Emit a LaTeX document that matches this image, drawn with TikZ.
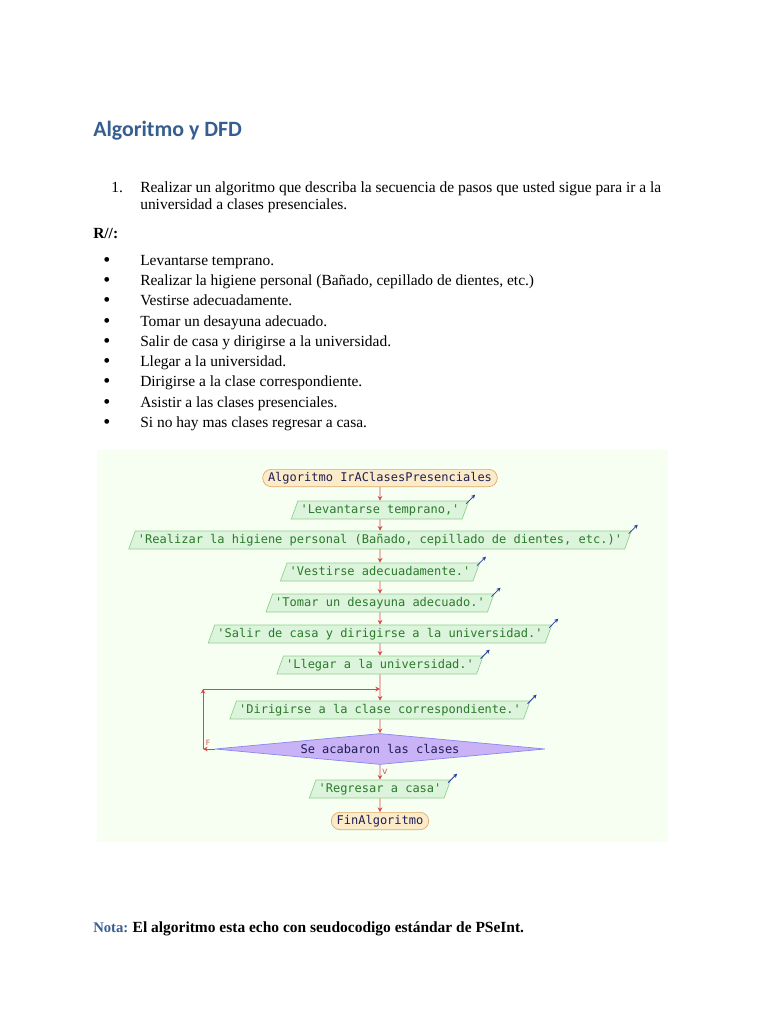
\documentclass[tikz,border=0pt]{standalone}
\usepackage{fontspec}
\setmainfont{Liberation Serif}
\newfontfamily\headfont{Carlito}
\newfontfamily\pmono{DejaVu Sans Mono}
\newfontfamily\lblfont{DejaVu Sans}
\usetikzlibrary{shapes.geometric,arrows.meta}
\definecolor{headblue}{HTML}{365F91}
\definecolor{panel}{HTML}{F6FFF2}
\definecolor{iofill}{HTML}{DDF4DC}
\definecolor{iodraw}{HTML}{8FCF8F}
\definecolor{iotext}{HTML}{2A7A2A}
\definecolor{flowred}{HTML}{D24B4B}
\definecolor{termfill}{HTML}{FCEBC9}
\definecolor{termdraw}{HTML}{DDAA66}
\definecolor{termtext}{HTML}{1E1E55}
\definecolor{decfill}{HTML}{C9B2F6}
\definecolor{decdraw}{HTML}{8585EE}
\definecolor{outblue}{HTML}{2B3C9E}
\begin{document}
\begin{tikzpicture}[x=0.75pt,y=-0.75pt,
  txt/.style={anchor=base west,inner sep=0pt,font=\fontsize{11.6}{13}\selectfont},
  io/.style={trapezium,trapezium left angle=70,trapezium right angle=110,draw=iodraw,fill=iofill,text=iotext,font=\pmono\fontsize{9}{10}\selectfont,inner xsep=2pt,inner ysep=2.25pt,text height=7pt,text depth=2pt,line width=0.5pt},
  term/.style={rectangle,rounded corners=6.5pt,draw=termdraw,fill=termfill,text=termtext,font=\pmono\fontsize{9}{10}\selectfont,inner xsep=4pt,inner ysep=2pt,text height=7pt,text depth=2pt,line width=0.5pt},
  dec/.style={diamond,aspect=10.6,draw=decdraw,fill=decfill,text=termtext,font=\pmono\fontsize{9}{10}\selectfont,inner sep=0pt,minimum width=247.5pt,minimum height=23.25pt,line width=0.5pt},
  flow/.style={draw=flowred,line width=0.6pt,-{Stealth[length=3.5pt,width=3.5pt]}},
  outarrow/.style={draw=outblue,line width=0.6pt,-{Stealth[length=3pt,width=3pt]}},
  lbl/.style={text=flowred,font=\lblfont\fontsize{5.5}{6}\selectfont,inner sep=0pt},
]
\useasboundingbox (0,0) rectangle (768,1024);
\fill[white] (0,0) rectangle (768,1024);

% title and text
\node[anchor=base west,inner sep=0pt,text=headblue,font=\headfont\bfseries\fontsize{16.4}{19}\selectfont] (title) at (93,136) {Algoritmo y DFD};
\node[txt] (n1) at (111,192) {1.};
\node[txt] (q1) at (140,192) {Realizar un algoritmo que describa la secuencia de pasos que usted sigue para ir a la};
\node[txt] (q2) at (140,209) {universidad a clases presenciales.};
\node[txt,font=\bfseries\fontsize{11.6}{13}\selectfont] (r) at (93,238) {R//:};
\foreach \t [count=\i] in {{Levantarse temprano.},{Realizar la higiene personal (Bañado, cepillado de dientes, etc.)},{Vestirse adecuadamente.},{Tomar un desayuna adecuado.},{Salir de casa y dirigirse a la universidad.},{Llegar a la universidad.},{Dirigirse a la clase correspondiente.},{Asistir a las clases presenciales.},{Si no hay mas clases regresar a casa.}}{
  \node[txt,font=\fontsize{15}{15}\selectfont] (b\i) at (103,{246+20.25*\i}) {\textbullet};
  \node[txt] (l\i) at (140,{245+20.25*\i}) {\t};
}

% panel
\fill[panel] (97,450) rectangle (668,842);

% flowchart
\node[term] (t0) at (380,478) {Algoritmo IrAClasesPresenciales};
\node[io] (p1) at (380,510) {'Levantarse temprano,'};
\node[io] (p2) at (380,540) {'Realizar la higiene personal (Bañado, cepillado de dientes, etc.)'};
\node[io] (p3) at (380,572) {'Vestirse adecuadamente.'};
\node[io] (p4) at (380,603) {'Tomar un desayuna adecuado.'};
\node[io] (p5) at (380,634) {'Salir de casa y dirigirse a la universidad.'};
\node[io] (p6) at (380,665) {'Llegar a la universidad.'};
\node[io] (p7) at (380,710) {'Dirigirse a la clase correspondiente.'};
\node[dec] (dc) at (380,749) {Se acabaron las clases};
\node[io] (p8) at (380,789) {'Regresar a casa'};
\node[term] (t1) at (380,821) {FinAlgoritmo};

\draw[flow] (t0.south) -- (p1.north);
\draw[flow] (p1.south) -- (p2.north);
\draw[flow] (p2.south) -- (p3.north);
\draw[flow] (p3.south) -- (p4.north);
\draw[flow] (p4.south) -- (p5.north);
\draw[flow] (p5.south) -- (p6.north);
\draw[flow] (p6.south) -- (p7.north);
\draw[flow] (p7.south) -- (dc.north);
\draw[flow] (dc.south) -- (p8.north);
\draw[flow] (p8.south) -- (t1.north);

\coordinate (lb) at (203,749);
\coordinate (lt) at (203,689);
\coordinate (jn) at (380,689);
\draw[flow] (dc.west) -- (lb);
\draw[flow] (lb) -- (lt);
\draw[flow] (lt) -- (jn);
\node[lbl] (fl) at (208,743) {F};
\node[lbl] (vl) at (385,772) {V};

\foreach \n in {p1,p2,p3,p4,p5,p6,p7,p8}
  \draw[outarrow] (\n.top right corner) ++(-3,3) -- ++(9,-9);

% nota
\node[anchor=base west,inner sep=0pt,text=headblue,font=\bfseries\fontsize{11}{13}\selectfont] (nota) at (93,932) {Nota:};
\node[anchor=base west,inner sep=0pt,font=\bfseries\fontsize{11.6}{13}\selectfont] (notat) at (nota.base east) {\ El algoritmo esta echo con seudocodigo estándar de PSeInt.};
\end{tikzpicture}
\end{document}
